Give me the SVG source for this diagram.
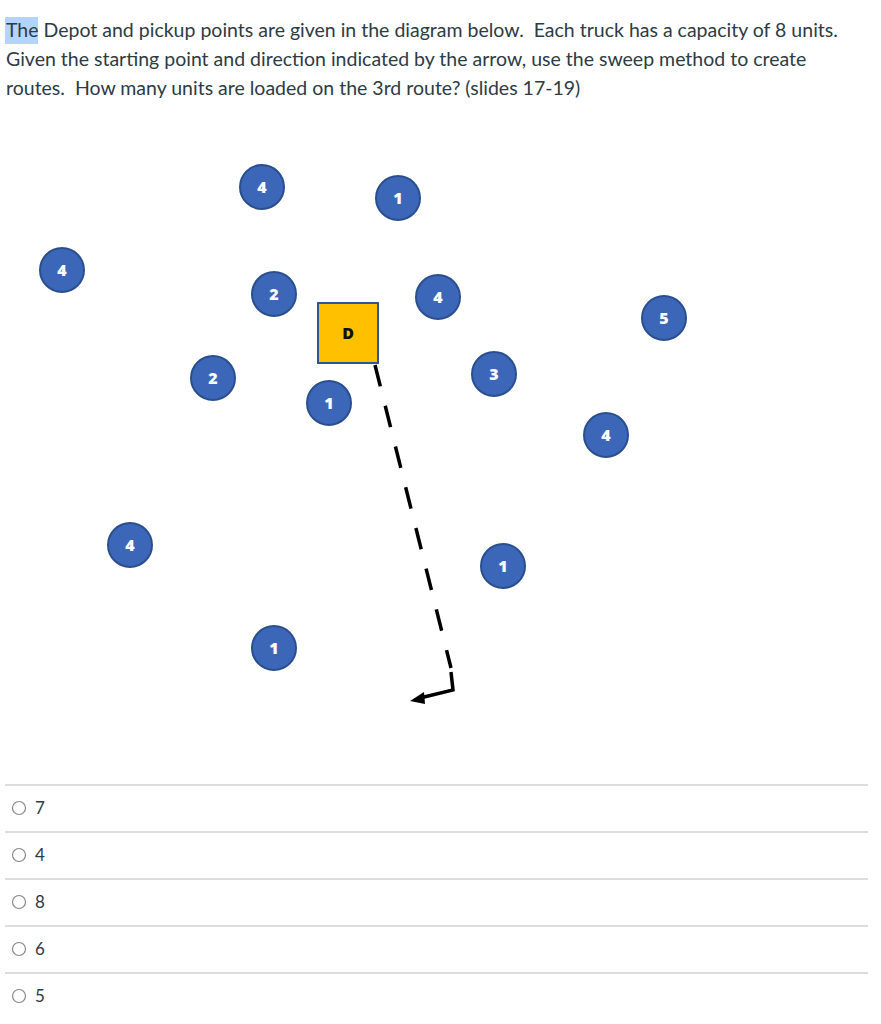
<svg xmlns="http://www.w3.org/2000/svg" width="881" height="1024" viewBox="0 0 881 1024">
<style>
.q{font-family:Lato,"Open Sans","Liberation Sans",sans-serif;font-size:19.5px;fill:#2d3b45;white-space:pre}
.n circle{fill:#3c67b9;stroke:#2a4f8f;stroke-width:2}
.n text{font-family:"Open Sans","Liberation Sans",sans-serif;font-weight:800;font-size:16px;fill:#fff;text-anchor:middle}
.opt circle{fill:#fff;stroke:#888;stroke-width:1.2}
.opt text{font-family:Lato,"Open Sans","Liberation Sans",sans-serif;font-size:17px;fill:#2d3b45}
.sep{stroke:#dcdcdc;stroke-width:2}
</style>
<rect width="881" height="1024" fill="#fff"/>
<rect x="5" y="17" width="33" height="27" fill="#b3d4fc"/>
<text class="q" x="6" y="37" xml:space="preserve">The Depot and pickup points are given in the diagram below.  Each truck has a capacity of 8 units.</text>
<text class="q" x="6" y="66">Given the starting point and direction indicated by the arrow, use the sweep method to create</text>
<text class="q" x="6" y="95" xml:space="preserve">routes.  How many units are loaded on the 3rd route? (slides 17-19)</text>
<g id="depot">
<rect x="318" y="303" width="60" height="60" fill="#ffc000" stroke="#2f5597" stroke-width="2"/>
<text x="348" y="339" font-family="'Open Sans','Liberation Sans',sans-serif" font-weight="800" font-size="16" text-anchor="middle" fill="#111">D</text>
</g>
<g id="n1" class="n"><circle cx="262" cy="187" r="22"/><text x="262" y="193">4</text></g>
<g id="n2" class="n"><circle cx="398" cy="198" r="22"/><text x="398" y="204">1</text></g>
<g id="n3" class="n"><circle cx="62" cy="270" r="22"/><text x="62" y="276">4</text></g>
<g id="n4" class="n"><circle cx="274" cy="294" r="22"/><text x="274" y="300">2</text></g>
<g id="n5" class="n"><circle cx="438" cy="297" r="22"/><text x="438" y="303">4</text></g>
<g id="n6" class="n"><circle cx="664" cy="318" r="22"/><text x="664" y="324">5</text></g>
<g id="n7" class="n"><circle cx="213" cy="378" r="22"/><text x="213" y="384">2</text></g>
<g id="n8" class="n"><circle cx="494" cy="374" r="22"/><text x="494" y="380">3</text></g>
<g id="n9" class="n"><circle cx="329" cy="403" r="22"/><text x="329" y="409">1</text></g>
<g id="n10" class="n"><circle cx="606" cy="435" r="22"/><text x="606" y="441">4</text></g>
<g id="n11" class="n"><circle cx="130" cy="545" r="22"/><text x="130" y="551">4</text></g>
<g id="n12" class="n"><circle cx="503" cy="566" r="22"/><text x="503" y="572">1</text></g>
<g id="n13" class="n"><circle cx="274" cy="648" r="22"/><text x="274" y="654">1</text></g>
<g id="connectors">
<line x1="375" y1="365" x2="451" y2="668" stroke="#000" stroke-width="3.5" stroke-dasharray="22,20"/>
<polyline points="451,672 453,690 420,698" fill="none" stroke="#000" stroke-width="3.5"/>
<polygon points="410,701 424,692 425,704" fill="#000"/>
</g>
<g id="options">
<line class="sep" x1="5" y1="785" x2="868" y2="785"/>
<g class="opt"><circle cx="19" cy="808" r="6.5"/><text x="35" y="814">7</text></g>
<line class="sep" x1="5" y1="832" x2="868" y2="832"/>
<g class="opt"><circle cx="19" cy="855" r="6.5"/><text x="35" y="861">4</text></g>
<line class="sep" x1="5" y1="879" x2="868" y2="879"/>
<g class="opt"><circle cx="19" cy="902" r="6.5"/><text x="35" y="908">8</text></g>
<line class="sep" x1="5" y1="926" x2="868" y2="926"/>
<g class="opt"><circle cx="19" cy="949" r="6.5"/><text x="35" y="955">6</text></g>
<line class="sep" x1="5" y1="973" x2="868" y2="973"/>
<g class="opt"><circle cx="19" cy="996" r="6.5"/><text x="35" y="1002">5</text></g>
</g>
</svg>
